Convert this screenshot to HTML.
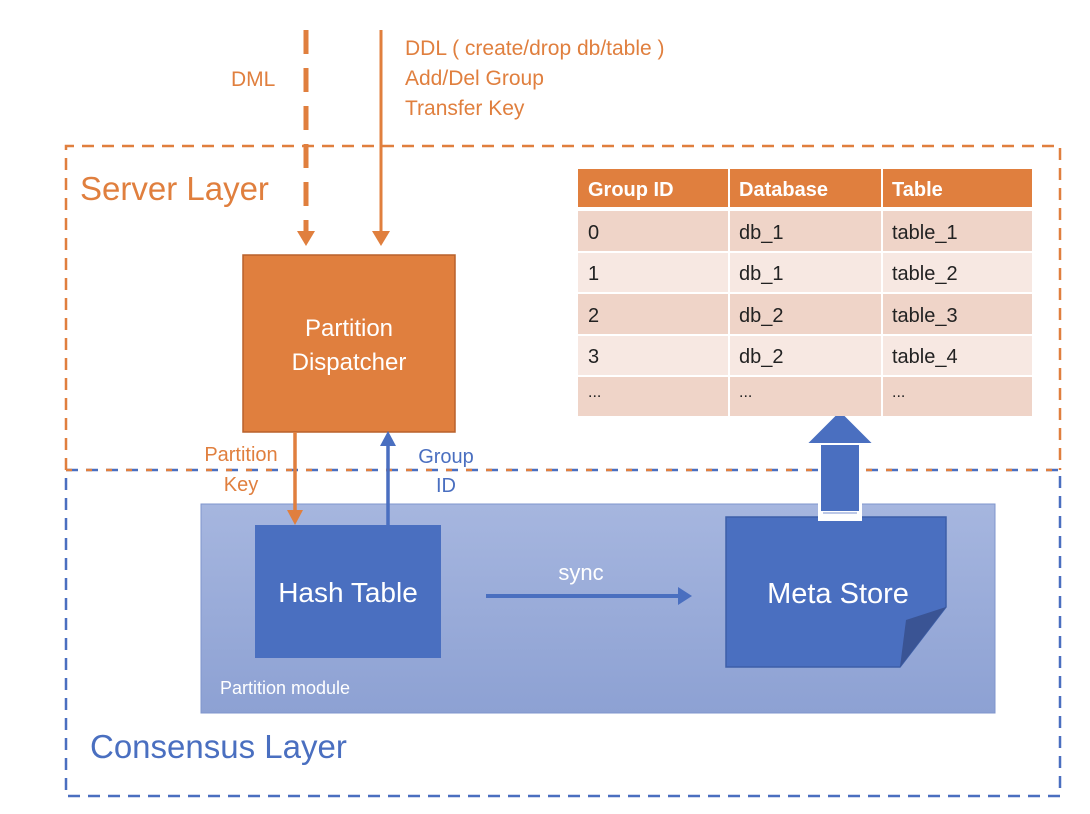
<!DOCTYPE html>
<html><head><meta charset="utf-8"><style>
html,body{margin:0;padding:0;background:#fff}
svg{display:block;font-family:"Liberation Sans","DejaVu Sans",sans-serif}
</style></head><body>
<svg width="1090" height="814" viewBox="0 0 1090 814" xmlns="http://www.w3.org/2000/svg">
<defs>
<linearGradient id="pm" x1="0" y1="0" x2="0" y2="1">
<stop offset="0" stop-color="#a6b6df"/><stop offset="1" stop-color="#8da1d3"/>
</linearGradient>
</defs>
<rect x="201" y="504" width="794" height="209" fill="url(#pm)" stroke="#7f95cc" stroke-width="1"/>
<rect x="66" y="470" width="994" height="326" fill="none" stroke="#4a6fc0" stroke-width="2.5" stroke-dasharray="12,8"/>
<path d="M66 470 V146 H1060 V470" fill="none" stroke="#e07f3e" stroke-width="2.5" stroke-dasharray="12,8"/>
<line x1="66" y1="470" x2="1060" y2="470" stroke="#e07f3e" stroke-width="2.5" stroke-dasharray="6,14"/>
<text x="80" y="200" font-size="33" fill="#e07f3e">Server Layer</text>
<text x="90" y="758" font-size="33" fill="#4a6fc0">Consensus Layer</text>
<line x1="306" y1="30" x2="306" y2="232" stroke="#e07f3e" stroke-width="5" stroke-dasharray="24,14"/>
<polygon points="297,231 315,231 306,246" fill="#e07f3e"/>
<line x1="381" y1="30" x2="381" y2="232" stroke="#e07f3e" stroke-width="3"/>
<polygon points="372,231 390,231 381,246" fill="#e07f3e"/>
<text x="231" y="86" font-size="21" fill="#e07f3e">DML</text>
<text x="405" y="55" font-size="21" fill="#e07f3e">DDL ( create/drop db/table )</text>
<text x="405" y="85" font-size="21" fill="#e07f3e">Add/Del Group</text>
<text x="405" y="115" font-size="21" fill="#e07f3e">Transfer Key</text>
<rect x="243" y="255" width="212" height="177" fill="#e07f3e" stroke="#b8612b" stroke-width="1.5"/>
<text x="349" y="336" font-size="24" fill="#fff" text-anchor="middle">Partition</text>
<text x="349" y="370" font-size="24" fill="#fff" text-anchor="middle">Dispatcher</text>
<line x1="295" y1="432" x2="295" y2="512" stroke="#e07f3e" stroke-width="3.5"/>
<polygon points="287,510 303,510 295,525" fill="#e07f3e"/>
<line x1="388" y1="525" x2="388" y2="445" stroke="#4a6fc0" stroke-width="3.5"/>
<polygon points="380,446 396,446 388,431" fill="#4a6fc0"/>
<text x="241" y="461" font-size="20" fill="#e07f3e" text-anchor="middle">Partition</text>
<text x="241" y="491" font-size="20" fill="#e07f3e" text-anchor="middle">Key</text>
<text x="446" y="463" font-size="20" fill="#4a6fc0" text-anchor="middle">Group</text>
<text x="446" y="492" font-size="20" fill="#4a6fc0" text-anchor="middle">ID</text>
<rect x="255" y="525" width="186" height="133" fill="#4a6fc0"/>
<text x="348" y="602" font-size="28" fill="#fff" text-anchor="middle">Hash Table</text>
<line x1="486" y1="596" x2="680" y2="596" stroke="#4a6fc0" stroke-width="4"/>
<polygon points="678,587 692,596 678,605" fill="#4a6fc0"/>
<text x="581" y="580" font-size="22" fill="#fff" text-anchor="middle">sync</text>
<text x="220" y="694" font-size="18" fill="#fff">Partition module</text>
<path d="M726 517 H946 V607 L900 667 H726 Z" fill="#4a6fc0" stroke="#3d5fa8" stroke-width="1.5"/>
<path d="M946 607 L900 667 L906 620 Z" fill="#3a5494"/>
<text x="838" y="603" font-size="29" fill="#fff" text-anchor="middle">Meta Store</text>
<rect x="818" y="443" width="44" height="78" fill="#fff"/>
<rect x="821" y="443" width="38" height="68" fill="#4a6fc0"/>
<line x1="823" y1="513" x2="857" y2="513" stroke="#a6b6df" stroke-width="1.5"/>
<polygon points="806,444 874,444 840,410" fill="#4a6fc0" stroke="#fff" stroke-width="2"/>
<g font-size="20">
<rect x="578" y="169" width="454" height="38" fill="#e07f3e"/>
<line x1="729" y1="169" x2="729" y2="207" stroke="#fff" stroke-width="2"/>
<line x1="882" y1="169" x2="882" y2="207" stroke="#fff" stroke-width="2"/>
<text x="588" y="196" fill="#fff" font-weight="bold">Group ID</text>
<text x="739" y="196" fill="#fff" font-weight="bold">Database</text>
<text x="892" y="196" fill="#fff" font-weight="bold">Table</text>
<rect x="578" y="211" width="454" height="40" fill="#efd4c8"/>
<rect x="578" y="253" width="454" height="39" fill="#f7e8e2"/>
<rect x="578" y="294" width="454" height="40" fill="#efd4c8"/>
<rect x="578" y="336" width="454" height="39" fill="#f7e8e2"/>
<rect x="578" y="377" width="454" height="39" fill="#efd4c8"/>
<line x1="729" y1="211" x2="729" y2="416" stroke="#fff" stroke-width="2"/>
<line x1="882" y1="211" x2="882" y2="416" stroke="#fff" stroke-width="2"/>
<g fill="#222">
<text x="588" y="239">0</text><text x="739" y="239">db_1</text><text x="892" y="239">table_1</text>
<text x="588" y="280">1</text><text x="739" y="280">db_1</text><text x="892" y="280">table_2</text>
<text x="588" y="322">2</text><text x="739" y="322">db_2</text><text x="892" y="322">table_3</text>
<text x="588" y="363">3</text><text x="739" y="363">db_2</text><text x="892" y="363">table_4</text>
<text x="588" y="397" font-size="16">...</text><text x="739" y="397" font-size="16">...</text><text x="892" y="397" font-size="16">...</text>
</g>
</g>
</svg>
</body></html>
